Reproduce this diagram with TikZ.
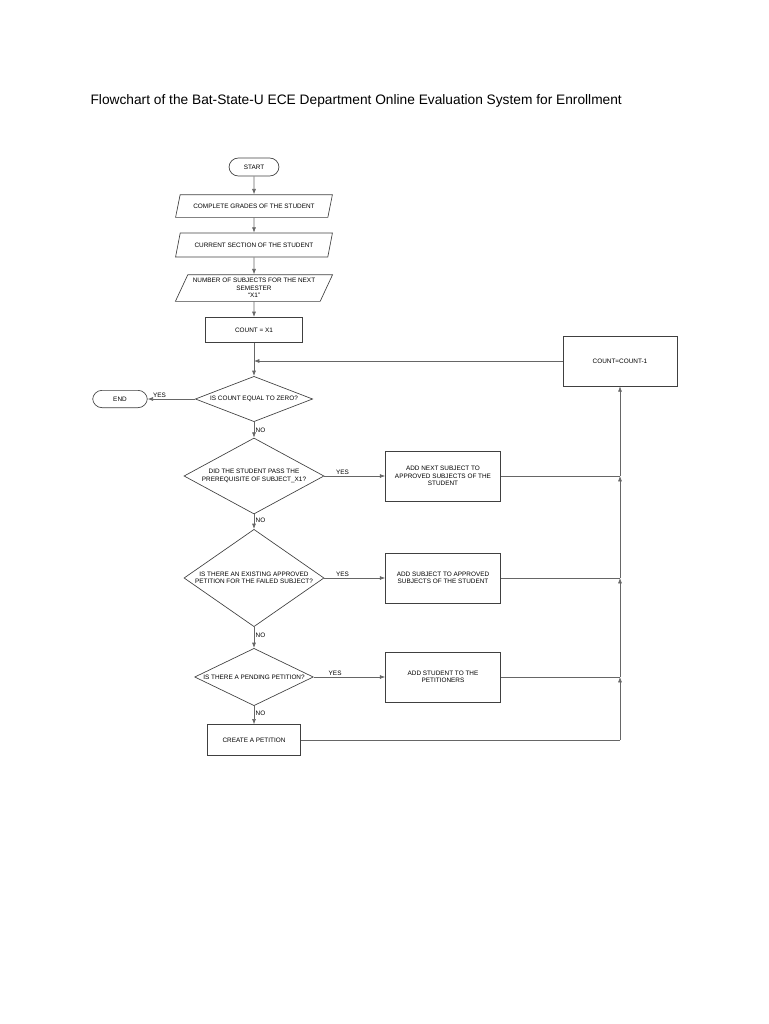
\documentclass[tikz,border=0pt]{standalone}
\usepackage{fontspec}
\setmainfont{Liberation Sans}
\usetikzlibrary{shapes.geometric,arrows.meta}
\begin{document}
\begin{tikzpicture}[x=0.75pt,y=-0.75pt,
  every node/.style={font=\fontsize{4.8}{5.6}\selectfont,align=center,inner sep=1pt},
  box/.style={draw=black!75,line width=0.5pt,minimum width=#1*0.75pt},
  term/.style={draw=black!75,line width=0.5pt,rounded corners=7pt,minimum height=13.5pt},
  io/.style={draw=black!75,line width=0.5pt,trapezium,trapezium left angle=62,trapezium right angle=118,minimum width=118pt,trapezium stretches=true},
  dec/.style={draw=black!75,line width=0.5pt,diamond,aspect=#1,inner sep=0pt},
  ln/.style={draw=black!60,line width=0.5pt},
  ar/.style={ln,-{Latex[length=4pt,width=3pt]}},
  lab/.style={font=\fontsize{4.8}{5.4}\selectfont}]
\useasboundingbox (0,0) rectangle (768,1024);
\node[anchor=west,font=\fontsize{10.3}{12}\selectfont] (title) at (89,101) {Flowchart of the Bat-State-U ECE Department Online Evaluation System for Enrollment};

\node[term,minimum width=37.5pt] (start) at (254,167) {START};
\node[io,minimum height=17pt] (p1) at (254,206) {COMPLETE GRADES OF THE STUDENT};
\node[io,minimum height=18pt] (p2) at (254,245) {CURRENT SECTION OF THE STUDENT};
\node[io,minimum height=20pt] (p3) at (254,288) {NUMBER OF SUBJECTS FOR THE NEXT\\SEMESTER\\``X1''};
\node[box=97,minimum height=19pt] (cnt) at (254,330) {COUNT = X1};
\node[box=114,minimum height=37.5pt] (dec1) at (620,361) {COUNT=COUNT-1};
\coordinate (m) at (254,361);
\node[dec=2.6,minimum width=88pt,minimum height=34pt] (d1) at (254,399) {IS COUNT EQUAL TO ZERO?};
\node[term,minimum width=41pt,minimum height=13pt] (end) at (120,399) {END};
\node[dec=1.85,minimum width=105pt,minimum height=57pt] (d2) at (254,476) {DID THE STUDENT PASS THE\\PREREQUISITE OF SUBJECT\_X1?};
\node[box=115,minimum height=37.5pt] (a) at (443,476) {ADD NEXT SUBJECT TO\\APPROVED SUBJECTS OF THE\\STUDENT};
\node[dec=1.45,minimum width=105pt,minimum height=73pt] (d3) at (254,578) {IS THERE AN EXISTING APPROVED\\PETITION FOR THE FAILED SUBJECT?};
\node[box=115,minimum height=37.5pt] (b) at (443,578) {ADD SUBJECT TO APPROVED\\SUBJECTS OF THE STUDENT};
\node[dec=2.1,minimum width=89pt,minimum height=43pt] (d4) at (254,677) {IS THERE A PENDING PETITION?};
\node[box=115,minimum height=37.5pt] (c) at (443,677) {ADD STUDENT TO THE\\PETITIONERS};
\node[box=93,minimum height=23pt] (cr) at (254,740) {CREATE A PETITION};
\coordinate (j1) at (620,476);
\coordinate (j2) at (620,578);
\coordinate (j3) at (620,677);
\coordinate (j4) at (620,740);

\draw[ar] (start) -- (p1);
\draw[ar] (p1) -- (p2);
\draw[ar] (p2) -- (p3);
\draw[ar] (p3) -- (cnt);
\draw[ln] (cnt.south) -- (m);
\draw[ar] (dec1.west) -- (m);
\draw[ar] (m) -- (d1.north);
\draw[ar] (d1.west) -- node[lab,above,pos=0.75]{YES} (end.east);
\draw[ar] (d1.south) -- node[lab,right,pos=0.5]{NO} (d2.north);
\draw[ar] (d2.east) -- node[lab,above,pos=0.3]{YES} (a.west);
\draw[ar] (d2.south) -- node[lab,right,pos=0.4]{NO} (d3.north);
\draw[ar] (d3.east) -- node[lab,above,pos=0.3]{YES} (b.west);
\draw[ar] (d3.south) -- node[lab,right,pos=0.4]{NO} (d4.north);
\draw[ar] (d4.east) -- node[lab,above,pos=0.3]{YES} (c.west);
\draw[ar] (d4.south) -- node[lab,right,pos=0.4]{NO} (cr.north);
\draw[ln] (a.east) -- (j1);
\draw[ln] (b.east) -- (j2);
\draw[ln] (c.east) -- (j3);
\draw[ln] (cr.east) -- (j4);
\draw[ar] (j4) -- (j3);
\draw[ar] (j3) -- (j2);
\draw[ar] (j2) -- (j1);
\draw[ar] (j1) -- (dec1.south);
\end{tikzpicture}
\end{document}
